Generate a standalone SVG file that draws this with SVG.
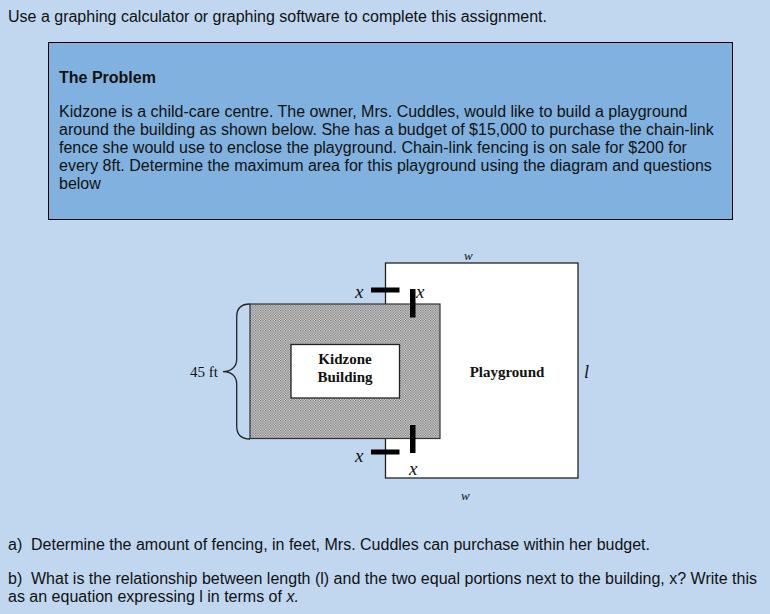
<svg xmlns="http://www.w3.org/2000/svg" width="770" height="614" viewBox="0 0 770 614">
<style>
.s{font-family:"Liberation Sans",Arial,sans-serif;font-size:16px;fill:#111}
.b{font-weight:bold}
.t{font-family:"Liberation Serif","Times New Roman",serif;fill:#111}
.l{font-size:15px;font-weight:bold}
.i{font-style:italic}
.x{font-size:19px}
.w{font-size:13px;font-weight:300}
.k{fill:#000}
.e{fill:#fff;stroke:#222;stroke-width:1.3}
</style>
<defs>
<pattern id="dots" width="2.5" height="2.5" patternUnits="userSpaceOnUse">
<rect width="2.5" height="2.5" fill="#dcdcdc"/>
<rect width="1.25" height="1.25" fill="#6e6e6e"/>
<rect x="1.25" y="1.25" width="1.25" height="1.25" fill="#7c7c7c"/>
</pattern>
</defs>
<rect width="770" height="614" fill="#c0d7ef"/>
<text class="s" x="8" y="22">Use a graphing calculator or graphing software to complete this assignment.</text>
<g id="problem-box">
<rect x="48.500" y="42.500" width="684" height="177" fill="#81b1de" stroke="#000" stroke-width="1"/>
<text class="s b" x="59" y="83">The Problem</text>
<text class="s" x="59" y="117">Kidzone is a child-care centre. The owner, Mrs. Cuddles, would like to build a playground</text>
<text class="s" x="59" y="135">around the building as shown below. She has a budget of $15,000 to purchase the chain-link</text>
<text class="s" x="59" y="153">fence she would use to enclose the playground. Chain-link fencing is on sale for $200 for</text>
<text class="s" x="59" y="171">every 8ft. Determine the maximum area for this playground using the diagram and questions</text>
<text class="s" x="59" y="189">below</text>
</g>
<g id="playground">
<rect class="e" x="385.500" y="263" width="192.500" height="215"/>
<text class="t l" x="507" y="377" text-anchor="middle">Playground</text>
</g>
<g id="building">
<rect x="250" y="304" width="190" height="134.500" fill="url(#dots)" stroke="#333" stroke-width="1.200"/>
<rect class="e" x="291" y="344.500" width="108.500" height="53.500"/>
<text class="t l" x="345" y="364" text-anchor="middle">Kidzone</text>
<text class="t l" x="345" y="382" text-anchor="middle">Building</text>
</g>
<g id="connectors">
<path d="M250 304C241 304 236.700 309 236.700 317V359C236.700 367 231 371.700 223 371.700C231 371.700 236.700 376 236.700 384V426C236.700 434 241 439 250 439" fill="none" stroke="#222" stroke-width="1.300"/>
<rect class="k" x="371" y="287.500" width="28.500" height="5"/>
<rect class="k" x="410" y="289" width="5.500" height="28.500"/>
<rect class="k" x="371" y="449.500" width="28.500" height="5"/>
<rect class="k" x="410" y="425" width="5.500" height="28"/>
</g>
<g id="labels">
<text class="t" x="190" y="377" font-size="15">45 ft</text>
<text class="t i x" x="355" y="298">x</text>
<text class="t i x" x="416" y="298">x</text>
<text class="t i x" x="355" y="462">x</text>
<text class="t i x" x="409" y="475">x</text>
<text class="t i w" x="464" y="260">w</text>
<text class="t i w" x="461" y="500">w</text>
<text class="t i" x="584" y="378" font-size="18">l</text>
</g>
<text class="s" x="8" y="550">a)</text>
<text class="s" x="31" y="550">Determine the amount of fencing, in feet, Mrs. Cuddles can purchase within her budget.</text>
<text class="s" x="8" y="584">b)</text>
<text class="s" x="31" y="584" textLength="726" lengthAdjust="spacing">What is the relationship between length (l) and the two equal portions next to the building, x? Write this</text>
<text class="s" x="8" y="602">as an equation expressing l in terms of <tspan class="i">x.</tspan></text>
</svg>
